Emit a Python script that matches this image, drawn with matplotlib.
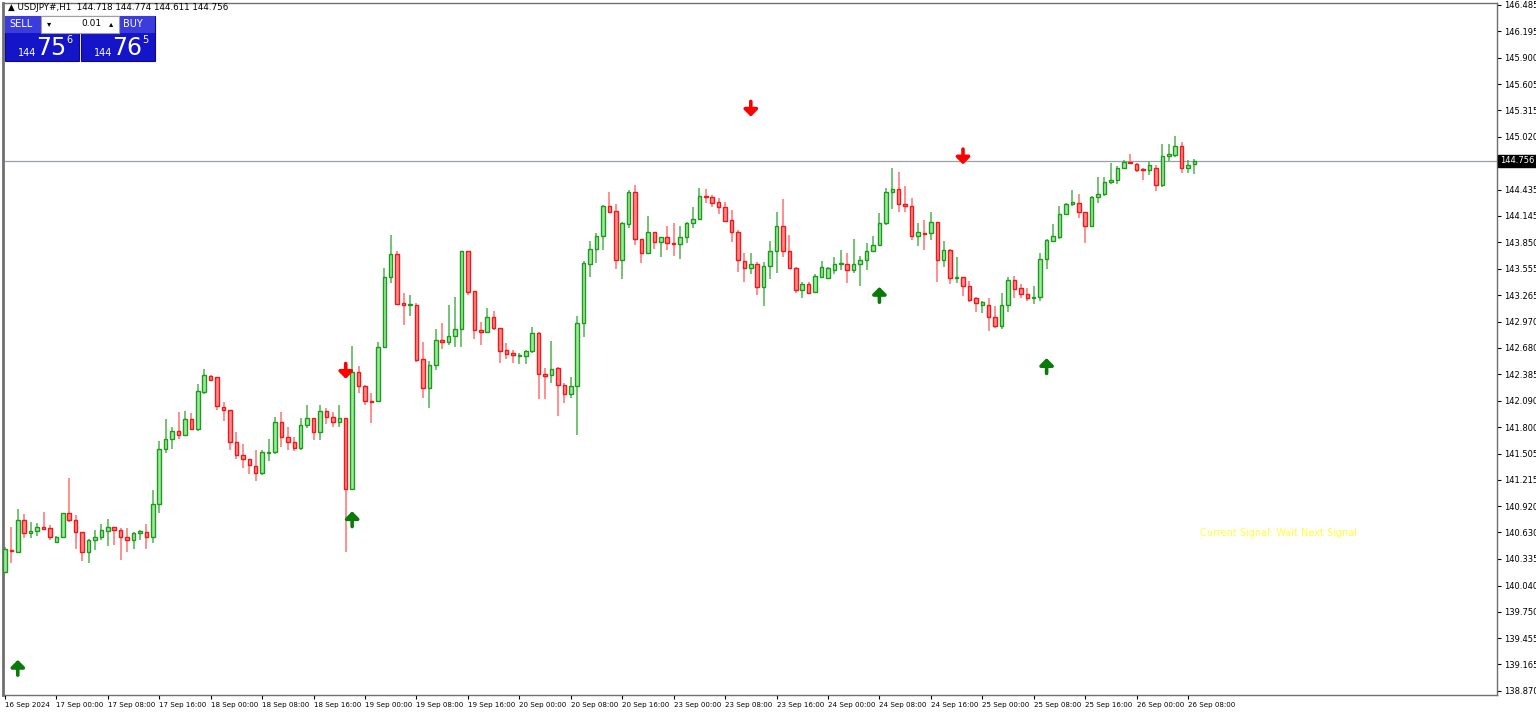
import matplotlib
matplotlib.use("Agg")
import matplotlib.pyplot as plt
from matplotlib.patches import Rectangle
import numpy as np
import pandas as pd

opens = [140.19,140.43,140.41,140.77,140.62,140.65,140.69,140.68,140.52,140.58,140.84,140.77,140.64,140.41,140.55,140.58,140.65,140.69,140.66,140.58,140.55,140.62,140.64,140.58,140.95,141.56,141.67,141.76,141.71,141.89,141.78,
 142.19,142.37,142.35,142.02,141.99,141.63,141.49,141.45,141.37,141.29,141.51,141.52,141.86,141.69,141.63,141.57,141.82,141.90,141.74,141.98,141.91,141.86,141.90,141.11,142.41,142.25,142.09,142.09,
 142.69,143.47,143.72,143.18,143.15,143.16,142.55,142.23,142.49,142.77,142.74,142.81,142.89,143.75,143.31,142.88,142.86,143.02,142.90,142.65,142.62,142.59,142.59,142.64,142.84,142.39,142.38,142.45,142.27,142.17,142.26,
 142.96,143.61,143.78,143.92,144.25,144.20,143.65,144.05,144.41,143.89,143.73,143.96,143.85,143.91,143.84,143.83,143.91,144.07,144.11,144.36,144.35,144.30,144.24,144.10,143.97,
 143.64,143.56,143.61,143.35,143.59,143.75,144.03,143.75,143.57,143.32,143.39,143.30,143.47,143.45,143.54,143.61,143.61,143.54,143.61,143.65,143.75,143.82,144.07,144.41,144.44,144.28,144.25,143.92,143.95,143.95,
 144.08,143.65,143.76,143.45,143.46,143.37,143.23,143.15,143.15,143.02,142.92,143.15,143.43,143.34,143.28,143.23,143.24,143.66,143.87,143.91,144.17,144.28,144.29,144.19,144.03,144.35,144.39,144.52,144.54,144.67,
 144.74,144.72,144.66,144.65,144.68,144.49,144.81,144.82,144.92,144.68,144.718]
closes = [140.45,140.42,140.77,140.62,140.65,140.69,140.67,140.58,140.58,140.84,140.77,140.64,140.41,140.55,140.58,140.66,140.69,140.66,140.58,140.55,140.62,140.65,140.58,140.95,141.56,141.67,141.76,141.71,141.89,141.78,142.20,
 142.38,142.32,142.03,141.99,141.63,141.49,141.45,141.38,141.29,141.52,141.52,141.86,141.69,141.63,141.57,141.82,141.90,141.74,141.98,141.91,141.86,141.90,141.11,142.41,142.25,142.09,142.08,142.69,
 143.47,143.72,143.17,143.15,143.16,142.54,142.23,142.49,142.77,142.74,142.81,142.89,143.75,143.30,142.88,142.86,143.02,142.90,142.64,142.61,142.60,142.60,142.64,142.84,142.39,142.37,142.44,142.27,142.17,142.26,142.96,
 143.62,143.78,143.92,144.25,144.19,143.65,144.07,144.41,143.89,143.73,143.96,143.85,143.91,143.84,143.83,143.91,144.06,144.11,144.36,144.35,144.29,144.24,144.09,143.97,143.65,
 143.56,143.61,143.35,143.59,143.75,144.03,143.75,143.57,143.32,143.39,143.29,143.48,143.58,143.56,143.61,143.62,143.54,143.61,143.65,143.75,143.82,144.07,144.41,144.44,144.28,144.25,143.92,143.96,143.94,144.08,
 143.65,143.76,143.45,143.46,143.37,143.21,143.18,143.19,143.02,142.92,143.15,143.43,143.33,143.28,143.23,143.24,143.66,143.88,143.92,144.17,144.28,144.30,144.19,144.03,144.35,144.39,144.52,144.54,144.67,144.74,
 144.73,144.65,144.65,144.71,144.49,144.81,144.83,144.92,144.68,144.71,144.756]
highs = [140.47,140.69,140.89,140.83,140.74,140.73,140.86,140.71,140.59,140.84,141.23,140.82,140.64,140.56,140.66,140.72,140.78,140.69,140.68,140.68,140.64,140.66,140.72,141.10,141.65,141.89,141.80,141.97,141.98,141.96,142.28,
 142.44,142.38,142.35,142.08,141.99,141.75,141.61,141.45,141.54,141.54,141.67,141.91,141.97,141.80,141.69,141.90,142.04,141.90,142.04,142.01,141.97,142.04,141.90,142.70,142.48,142.27,142.18,142.74,
 143.57,143.93,143.75,143.29,143.27,143.18,142.74,142.53,142.89,142.96,143.15,143.24,143.75,143.75,143.31,142.97,143.12,143.09,142.90,142.73,142.65,142.62,142.65,142.91,142.85,142.45,142.76,142.47,142.29,142.36,143.03,
 143.64,143.87,143.95,144.26,144.41,144.28,144.08,144.43,144.49,143.89,144.14,143.97,143.91,144.03,144.06,144.03,144.08,144.24,144.45,144.44,144.38,144.34,144.30,144.21,143.99,
 143.73,143.73,143.63,143.63,143.86,144.19,144.33,143.93,143.58,143.41,143.41,143.50,143.64,143.58,143.69,143.77,143.73,143.89,143.70,143.84,143.92,144.18,144.45,144.67,144.63,144.47,144.34,144.06,144.10,144.19,
 144.08,143.86,143.78,143.69,143.47,143.42,143.24,143.20,143.23,143.14,143.29,143.47,143.48,143.39,143.34,143.36,143.73,143.89,144.05,144.25,144.29,144.43,144.39,144.19,144.36,144.58,144.58,144.73,144.70,144.76,
 144.83,144.73,144.67,144.75,144.71,144.94,144.94,145.03,144.96,144.76,144.774]
lows = [140.18,140.29,140.40,140.57,140.57,140.59,140.66,140.55,140.52,140.57,140.75,140.45,140.31,140.29,140.43,140.55,140.48,140.49,140.32,140.41,140.45,140.55,140.45,140.51,140.84,141.51,141.56,141.67,141.70,141.77,141.76,
 142.17,142.31,141.99,141.87,141.55,141.45,141.35,141.28,141.20,141.27,141.42,141.50,141.58,141.54,141.53,141.55,141.79,141.66,141.66,141.83,141.80,141.80,140.41,141.10,142.18,142.04,141.85,142.09,
 142.68,143.40,143.15,142.93,143.03,142.52,142.12,142.01,142.43,142.67,142.71,142.69,142.69,143.26,142.78,142.71,142.84,142.88,142.51,142.55,142.51,142.50,142.50,142.62,142.11,142.11,142.29,141.92,142.07,142.12,141.71,
 142.80,143.46,143.62,143.76,144.18,143.55,143.44,144.01,143.82,143.62,143.72,143.78,143.69,143.77,143.70,143.67,143.84,144.01,144.11,144.29,144.24,144.16,144.08,143.85,143.52,
 143.41,143.50,143.26,143.14,143.44,143.51,143.69,143.56,143.29,143.23,143.28,143.29,143.45,143.44,143.50,143.54,143.40,143.51,143.36,143.54,143.74,143.81,144.04,144.22,144.19,144.19,143.88,143.81,143.77,143.88,
 143.41,143.58,143.39,143.40,143.25,143.19,143.08,143.07,142.87,142.90,142.89,143.08,143.23,143.23,143.20,143.17,143.20,143.55,143.86,143.89,144.15,144.25,144.12,143.84,144.02,144.29,144.36,144.50,144.50,144.66,
 144.72,144.63,144.54,144.60,144.42,144.46,144.75,144.80,144.62,144.62,144.611]

# signal arrows: (bar index, price)
up_idx = [2, 54, 136, 162]
up_price = [139.13, 140.78, 143.27, 142.48]
down_idx = [53, 116, 149]
down_price = [142.42, 145.33, 144.80]

ytick_vals = [146.485,146.195,145.900,145.605,145.315,145.020,144.435,144.145,143.850,143.555,143.265,142.970,
              142.680,142.385,142.090,141.800,141.505,141.215,140.920,140.630,140.335,140.040,139.750,139.455,139.165,138.870]
last_price = 144.756
first_bar = "2024-09-16 16:00"

n = len(opens)
times = []
t = pd.Timestamp(first_bar)
while len(times) < n:
    if t.weekday() < 5:
        times.append(t)
    t += pd.Timedelta(hours=1)
tick_pos = [0] + [i for i, tt in enumerate(times) if tt.hour % 8 == 0 and i > 2]
tick_lab = ["16 Sep 2024"] + [times[i].strftime("%d Sep %H:%M").lstrip("0") for i in tick_pos[1:]]

W, H = 1536, 712
fig = plt.figure(figsize=(W/100, H/100), dpi=100)
ax = fig.add_axes([3/W, 17/H, 1494/W, 692/H])
ax.set_xlim(-0.3, -0.3 + 1494/6.43)
ax.set_ylim(138.825, 146.507)

x = np.arange(n)
o = np.array(opens); c = np.array(closes); h = np.array(highs); l = np.array(lows)
bull = c >= o
for mask, edge, fill, wick in [(bull, "#1E9A1E", "#9BEA9B", "#4DB34D"), (~bull, "#F01818", "#FF8A8A", "#FF7070")]:
    ax.vlines(x[mask], l[mask], h[mask], color=wick, lw=1.1, zorder=2)
    bottoms = np.minimum(o, c)[mask]
    heights = np.maximum(np.abs(c - o)[mask], 0.012)
    ax.bar(x[mask], heights, bottom=bottoms, width=0.55, color=fill, edgecolor=edge, lw=1.0, zorder=3)

ax.axhline(last_price, color="#9AA0A8", lw=0.9, zorder=1)

style = "-|>,head_width=0.4,head_length=0.4"
for i, p in zip(up_idx, up_price):
    ax.annotate("", xy=(i, p + 0.085), xytext=(i, p - 0.085),
                arrowprops=dict(arrowstyle=style, color="#0A7A0A", lw=2.6, shrinkA=0, shrinkB=0), zorder=5)
for i, p in zip(down_idx, down_price):
    ax.annotate("", xy=(i, p - 0.085), xytext=(i, p + 0.085),
                arrowprops=dict(arrowstyle=style, color="#FF0000", lw=2.6, shrinkA=0, shrinkB=0), zorder=5)

ax.text(1197/6.43 - 0.3, 140.62, "Current Signal: Wait Next Signal", color="#FFFF40", fontsize=7, va="center", ha="left")

ax.yaxis.tick_right()
ax.set_yticks(ytick_vals)
ax.set_yticklabels([f"{v:.3f}" for v in ytick_vals], fontsize=6)
ax.tick_params(axis="y", length=3, pad=2, colors="#000000")
ax.set_xticks(tick_pos)
ax.set_xticklabels(tick_lab, fontsize=5.1, ha="left")
ax.tick_params(axis="x", length=3, pad=2)
for s in ax.spines.values():
    s.set_color("#707070"); s.set_linewidth(1.0)
ax.spines["left"].set_linewidth(2)

ax.text(1.002, (last_price - 138.825)/(146.507-138.825), f"{last_price:.3f}", transform=ax.transAxes,
        fontsize=6, color="white", va="center", ha="left",
        bbox=dict(boxstyle="square,pad=0.2", fc="black", ec="black"))

fig.text(8/W, 1-8/H, "▲ USDJPY#,H1  144.718 144.774 144.611 144.756", fontsize=6.3, va="center", ha="left")
def fx(px): return px/W
def fy(py): return 1 - py/H
for x0, lab in [(5, "SELL"), (81, "BUY")]:
    fig.patches.append(Rectangle((fx(x0), fy(61)), 74/W, 45/H, transform=fig.transFigure, fc="#1414C8", ec="#0A0A90", lw=0.8))
    fig.patches.append(Rectangle((fx(x0), fy(33)), 74/W, 17/H, transform=fig.transFigure, fc="#3C3CDC", ec="none"))
fig.patches.append(Rectangle((fx(41), fy(33)), 78/W, 17/H, transform=fig.transFigure, fc="white", ec="#A0A0A0", lw=0.8))
fig.text(fx(21), fy(24), "SELL", fontsize=7, color="white", ha="center", va="center")
fig.text(fx(133), fy(24), "BUY", fontsize=7, color="white", ha="center", va="center")
fig.text(fx(101), fy(24), "0.01", fontsize=6.5, color="black", ha="right", va="center")
fig.text(fx(49), fy(24), "▾", fontsize=6, ha="center", va="center")
fig.text(fx(111), fy(24), "▴", fontsize=6, ha="center", va="center")
for x0, big, sup in [(18, "75", "6"), (94, "76", "5")]:
    fig.text(fx(x0), fy(53), "144", fontsize=7, color="white", ha="left", va="center")
    fig.text(fx(x0 + 18), fy(48), big, fontsize=17, color="white", ha="left", va="center")
    fig.text(fx(x0 + 48), fy(40), sup, fontsize=7, color="white", ha="left", va="center")

fig.savefig("out.png", dpi=100, facecolor="white")
